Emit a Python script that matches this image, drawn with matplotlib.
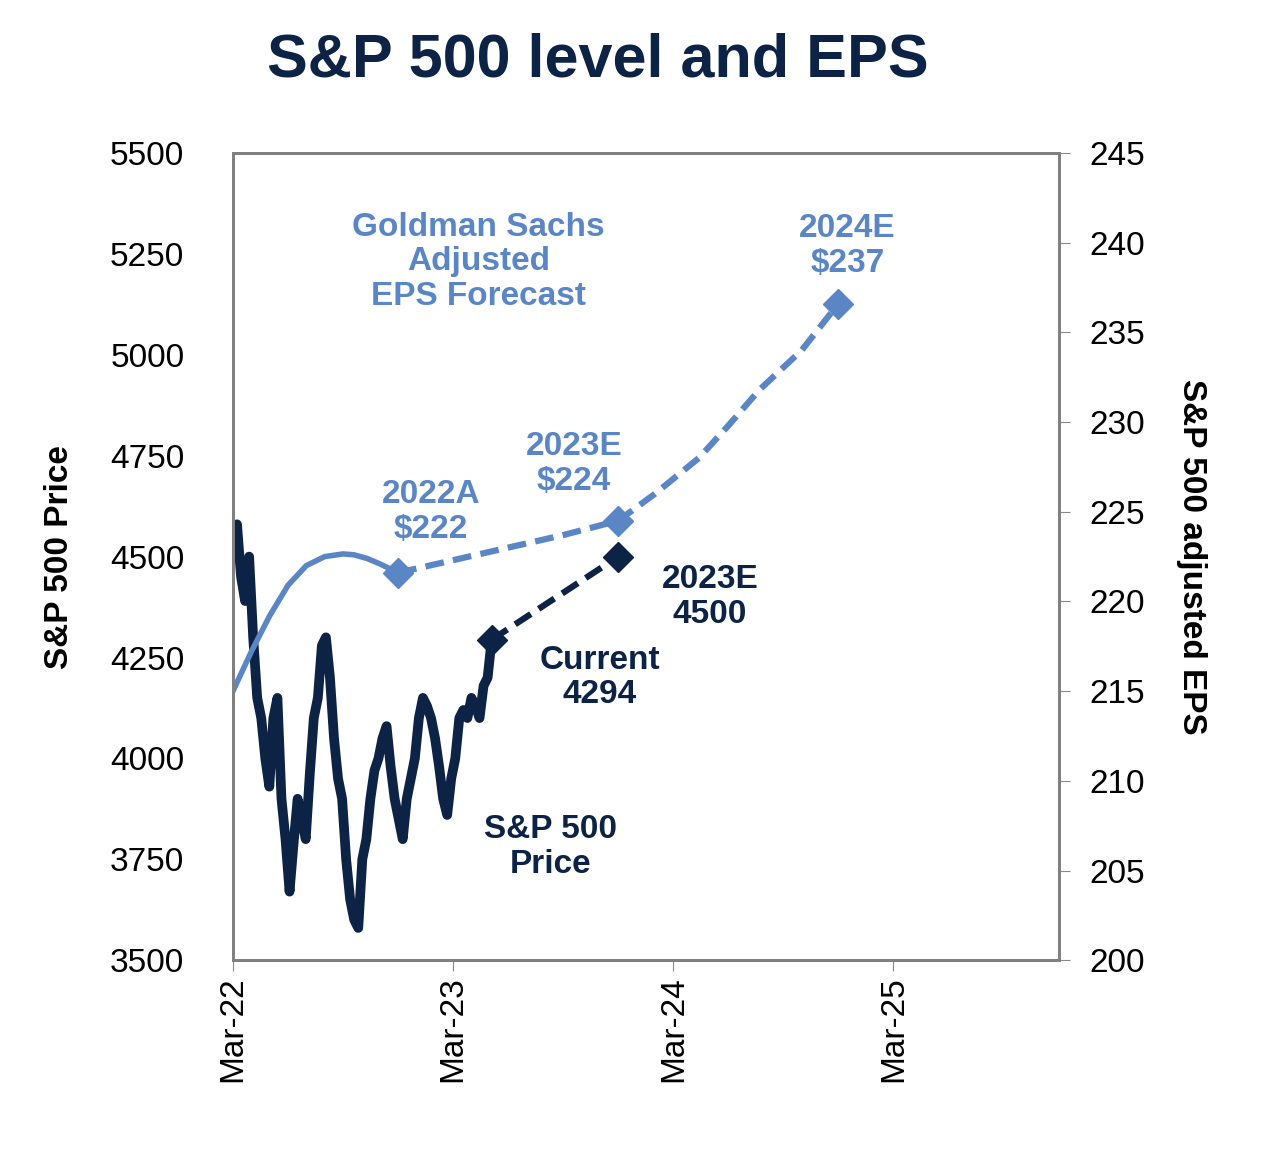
import matplotlib
matplotlib.use("Agg")
import matplotlib.pyplot as plt
import numpy as np

plt.rcParams["font.family"] = "Liberation Sans"

# Price (weekly, Mar-22 .. ~May-23), months since Mar-22
price_vals = [4520, 4580, 4450, 4390, 4500, 4300, 4150, 4100, 4000, 3930, 4100, 4150, 3900, 3800,
              3670, 3790, 3900, 3850, 3800, 3960, 4100, 4150, 4280, 4300, 4200, 4050, 3950, 3900,
              3750, 3650, 3600, 3580, 3750, 3800, 3900, 3970, 4000, 4050, 4080, 3980, 3900, 3850,
              3800, 3900, 3950, 4000, 4100, 4150, 4130, 4100, 4050, 3980, 3900, 3860, 3950, 4000,
              4100, 4120, 4100, 4150, 4130, 4100, 4180, 4200, 4294]
price_end_month = 14.1
price_fc_months = [14.1, 21.0]
price_fc_vals = [4294, 4500]

eps_hist_months = [0, 1.0, 2.0, 3.0, 4.0, 5.0, 6.0, 6.6, 7.3, 8.0, 9.0]
eps_hist_vals = [215.0, 217.2, 219.2, 220.9, 222.0, 222.5, 222.65, 222.6, 222.4, 222.1, 221.6]
eps_fc_months = [9.0, 12.0, 15.0, 18.0, 21.0, 23.0, 25.4, 27.0, 28.7, 31.0, 33.0]
eps_fc_vals = [221.6, 222.3, 223.0, 223.7, 224.5, 226.0, 228.0, 229.8, 231.8, 234.0, 236.6]
marker_months = [9.0, 21.0, 33.0]
marker_vals = [221.6, 224.5, 236.6]

xtick_pos = [0, 12, 24, 36]
xtick_labels = ["Mar-22", "Mar-23", "Mar-24", "Mar-25"]

navy = "#0c2345"
light = "#5b86c5"

fig = plt.figure(figsize=(12.8, 11.5), dpi=100)
ax = fig.add_axes([0.182, 0.165, 0.645, 0.702])
ax2 = ax.twinx()

pm = np.linspace(0, price_end_month, len(price_vals))
ax.plot(pm, price_vals, color=navy, lw=7, solid_joinstyle="round")
ax.plot(price_fc_months, price_fc_vals, color=navy, lw=4.5, ls=(0, (3, 1.5)))
ax.plot(price_fc_months, price_fc_vals, ls="none", marker="D", ms=15, color=navy)

ax2.plot(eps_hist_months, eps_hist_vals, color=light, lw=4)
ax2.plot(eps_fc_months, eps_fc_vals, color=light, lw=4.5, ls=(0, (3, 1.5)))
ax2.plot(marker_months, marker_vals, ls="none", marker="D", ms=15, color=light)

ax.set_xlim(0, 45)
ax.set_ylim(3500, 5500)
ax2.set_ylim(200, 245)
ax.set_yticks(range(3500, 5501, 250))
ax2.set_yticks(range(200, 246, 5))
ax.set_xticks(xtick_pos)
ax.set_xticklabels(xtick_labels, rotation=90)
ax.tick_params(axis="x", labelsize=24, length=8, direction="out", color="#888888")
ax.tick_params(axis="y", labelsize=24, length=0, pad=35)
ax2.tick_params(axis="y", labelsize=24, length=8, color="#888888", pad=14)
for a in (ax, ax2):
    for s in a.spines.values():
        s.set_color("#808080")
        s.set_linewidth(2)

ax.set_ylabel("S&P 500 Price", fontsize=24, fontweight="bold", labelpad=25)
ax2.set_ylabel("S&P 500 adjusted EPS", fontsize=24, fontweight="bold", rotation=270, labelpad=45)
t = fig.text(0.467, 0.947, "S&P 500 level and EPS", fontsize=44, fontweight="bold", color=navy,
             ha="center", va="center", fontstretch="condensed")

kw = dict(fontsize=24, fontweight="bold", ha="center", va="center", linespacing=1.15)
ax.text(13.4, 5230, "Goldman Sachs\nAdjusted\nEPS Forecast", color=light, **kw)
ax.text(10.8, 4610, "2022A\n$222", color=light, **kw)
ax.text(18.6, 4730, "2023E\n$224", color=light, **kw)
ax.text(33.5, 5270, "2024E\n$237", color=light, **kw)
ax.text(26.0, 4400, "2023E\n4500", color=navy, **kw)
ax.text(20.0, 4200, "Current\n4294", color=navy, **kw)
ax.text(17.3, 3780, "S&P 500\nPrice", color=navy, **kw)

fig.savefig("out.png", dpi=100)
